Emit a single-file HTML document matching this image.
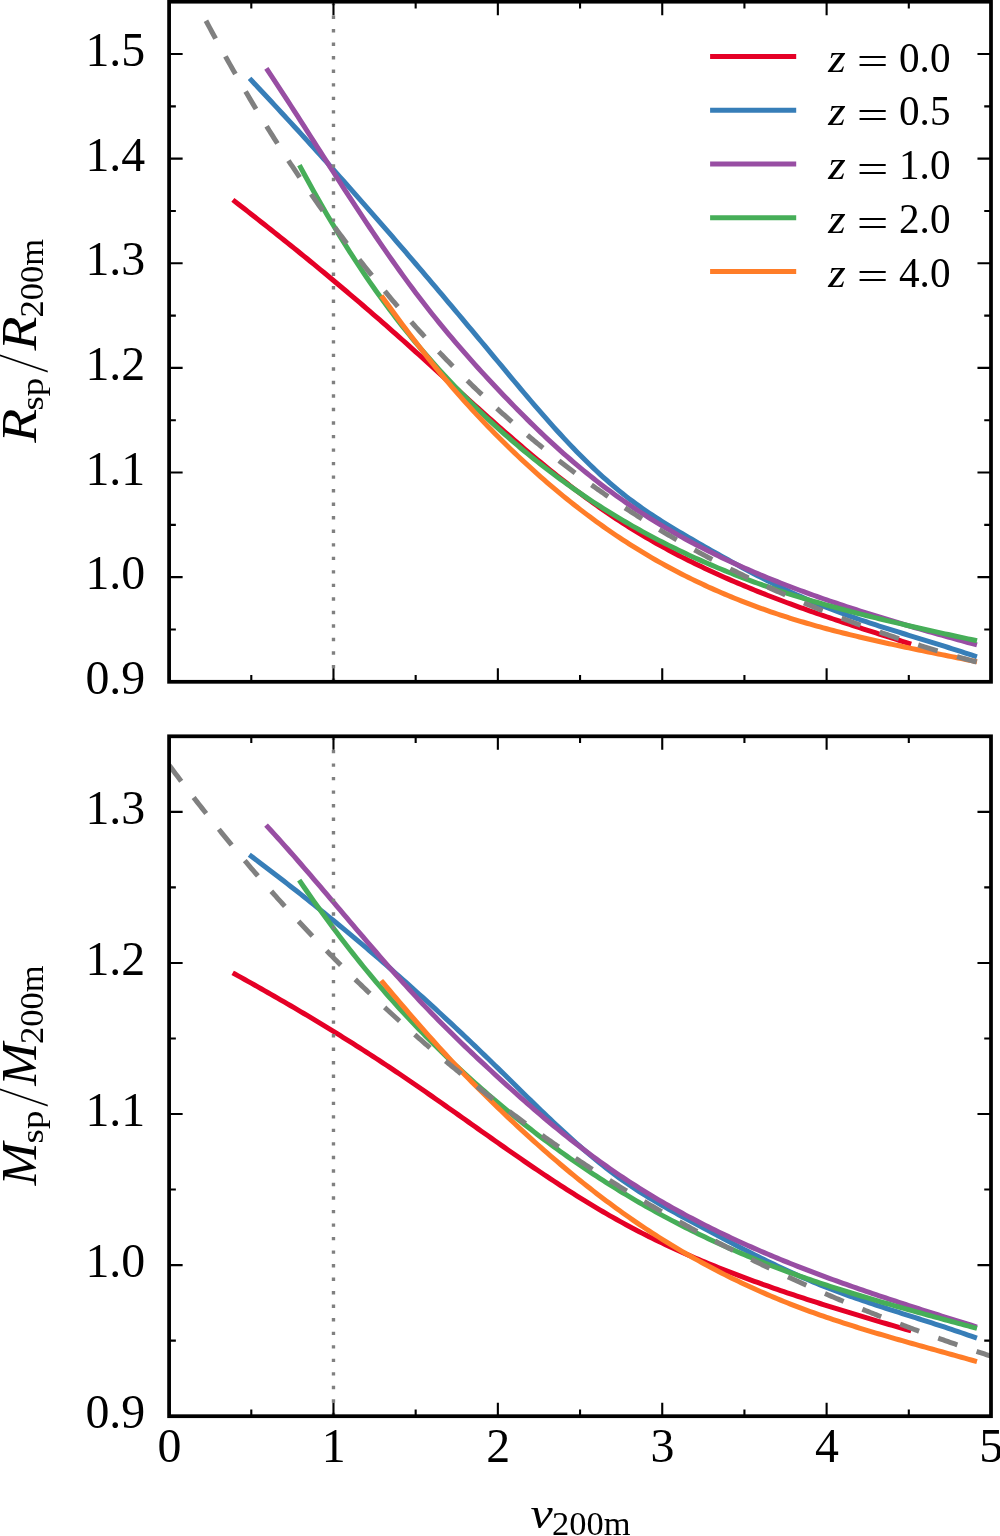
<!DOCTYPE html>
<html lang="en"><head><meta charset="utf-8"><title>Splashback radius and mass vs peak height</title>
<style>html,body{margin:0;padding:0;background:#fff}svg{display:block}</style></head>
<body>
<svg width="1000" height="1536" viewBox="0 0 1000 1536">
<rect x="0" y="0" width="1000" height="1536" fill="#ffffff"/>
<defs><clipPath id="ct"><rect x="169.10" y="3.90" width="821.90" height="677.90"/></clipPath><clipPath id="cb"><rect x="169.10" y="738.50" width="821.90" height="677.70"/></clipPath></defs>
<g clip-path="url(#ct)" fill="none" stroke-width="5.00">
<path d="M234.85 201.39 L238.14 203.94 L241.43 206.50 L244.71 209.06 L248.00 211.63 L251.29 214.20 L254.58 216.78 L257.87 219.36 L261.15 221.95 L264.44 224.54 L267.73 227.14 L271.02 229.74 L274.30 232.35 L277.59 234.97 L280.88 237.59 L284.17 240.21 L287.45 242.85 L290.74 245.49 L294.03 248.14 L297.32 250.79 L300.60 253.45 L303.89 256.12 L307.18 258.80 L310.47 261.48 L313.75 264.17 L317.04 266.87 L320.33 269.58 L323.62 272.29 L326.90 275.02 L330.19 277.75 L333.48 280.49 L336.77 283.23 L340.06 285.99 L343.34 288.75 L346.63 291.53 L349.92 294.31 L353.21 297.10 L356.49 299.89 L359.78 302.70 L363.07 305.52 L366.36 308.34 L369.64 311.17 L372.93 314.02 L376.22 316.87 L379.51 319.73 L382.79 322.60 L386.08 325.48 L389.37 328.36 L392.66 331.26 L395.94 334.17 L399.23 337.08 L402.52 340.00 L405.81 342.94 L409.09 345.88 L412.38 348.82 L415.67 351.78 L418.96 354.74 L422.25 357.70 L425.53 360.67 L428.82 363.64 L432.11 366.61 L435.40 369.59 L438.68 372.57 L441.97 375.55 L445.26 378.53 L448.55 381.51 L451.83 384.49 L455.12 387.46 L458.41 390.44 L461.70 393.41 L464.98 396.38 L468.27 399.34 L471.56 402.30 L474.85 405.25 L478.13 408.20 L481.42 411.15 L484.71 414.08 L488.00 417.01 L491.28 419.93 L494.57 422.84 L497.86 425.75 L501.15 428.64 L504.44 431.52 L507.72 434.39 L511.01 437.24 L514.30 440.09 L517.59 442.92 L520.87 445.73 L524.16 448.53 L527.45 451.32 L530.74 454.09 L534.02 456.84 L537.31 459.57 L540.60 462.29 L543.89 464.99 L547.17 467.67 L550.46 470.33 L553.75 472.97 L557.04 475.59 L560.32 478.19 L563.61 480.77 L566.90 483.33 L570.19 485.86 L573.47 488.38 L576.76 490.87 L580.05 493.33 L583.34 495.77 L586.63 498.19 L589.91 500.59 L593.20 502.96 L596.49 505.30 L599.78 507.62 L603.06 509.91 L606.35 512.18 L609.64 514.42 L612.93 516.64 L616.21 518.82 L619.50 520.98 L622.79 523.11 L626.08 525.22 L629.36 527.29 L632.65 529.34 L635.94 531.36 L639.23 533.36 L642.51 535.33 L645.80 537.27 L649.09 539.19 L652.38 541.08 L655.66 542.96 L658.95 544.80 L662.24 546.63 L665.53 548.43 L668.82 550.21 L672.10 551.96 L675.39 553.70 L678.68 555.42 L681.97 557.11 L685.25 558.78 L688.54 560.44 L691.83 562.08 L695.12 563.69 L698.40 565.29 L701.69 566.87 L704.98 568.43 L708.27 569.98 L711.55 571.51 L714.84 573.02 L718.13 574.51 L721.42 575.99 L724.70 577.46 L727.99 578.90 L731.28 580.34 L734.57 581.76 L737.85 583.16 L741.14 584.55 L744.43 585.93 L747.72 587.29 L751.01 588.64 L754.29 589.98 L757.58 591.31 L760.87 592.62 L764.16 593.92 L767.44 595.21 L770.73 596.49 L774.02 597.76 L777.31 599.01 L780.59 600.26 L783.88 601.50 L787.17 602.72 L790.46 603.94 L793.74 605.15 L797.03 606.35 L800.32 607.53 L803.61 608.72 L806.89 609.89 L810.18 611.05 L813.47 612.21 L816.76 613.36 L820.04 614.50 L823.33 615.63 L826.62 616.76 L829.91 617.88 L833.20 619.00 L836.48 620.10 L839.77 621.20 L843.06 622.30 L846.35 623.39 L849.63 624.48 L852.92 625.56 L856.21 626.63 L859.50 627.70 L862.78 628.77 L866.07 629.83 L869.36 630.89 L872.65 631.94 L875.93 632.99 L879.22 634.03 L882.51 635.08 L885.80 636.12 L889.08 637.15 L892.37 638.18 L895.66 639.22 L898.95 640.24 L902.23 641.27 L905.52 642.29 L908.81 643.32" stroke="#e50026" stroke-linecap="square" stroke-linejoin="round"/>
<path d="M251.29 80.19 L254.58 83.69 L257.87 87.20 L261.15 90.72 L264.44 94.24 L267.73 97.77 L271.02 101.31 L274.30 104.85 L277.59 108.39 L280.88 111.94 L284.17 115.50 L287.45 119.07 L290.74 122.64 L294.03 126.22 L297.32 129.81 L300.60 133.40 L303.89 137.00 L307.18 140.61 L310.47 144.22 L313.75 147.84 L317.04 151.47 L320.33 155.10 L323.62 158.75 L326.90 162.40 L330.19 166.06 L333.48 169.72 L336.77 173.39 L340.06 177.07 L343.34 180.76 L346.63 184.46 L349.92 188.16 L353.21 191.87 L356.49 195.59 L359.78 199.32 L363.07 203.05 L366.36 206.79 L369.64 210.54 L372.93 214.29 L376.22 218.05 L379.51 221.82 L382.79 225.60 L386.08 229.39 L389.37 233.18 L392.66 236.98 L395.94 240.78 L399.23 244.59 L402.52 248.41 L405.81 252.24 L409.09 256.07 L412.38 259.91 L415.67 263.75 L418.96 267.60 L422.25 271.46 L425.53 275.33 L428.82 279.19 L432.11 283.07 L435.40 286.95 L438.68 290.84 L441.97 294.73 L445.26 298.62 L448.55 302.52 L451.83 306.43 L455.12 310.34 L458.41 314.25 L461.70 318.17 L464.98 322.10 L468.27 326.02 L471.56 329.95 L474.85 333.89 L478.13 337.83 L481.42 341.77 L484.71 345.71 L488.00 349.65 L491.28 353.60 L494.57 357.55 L497.86 361.50 L501.15 365.46 L504.44 369.41 L507.72 373.36 L511.01 377.31 L514.30 381.25 L517.59 385.18 L520.87 389.10 L524.16 393.00 L527.45 396.88 L530.74 400.75 L534.02 404.59 L537.31 408.41 L540.60 412.20 L543.89 415.97 L547.17 419.70 L550.46 423.40 L553.75 427.07 L557.04 430.71 L560.32 434.30 L563.61 437.86 L566.90 441.38 L570.19 444.86 L573.47 448.29 L576.76 451.68 L580.05 455.02 L583.34 458.32 L586.63 461.57 L589.91 464.77 L593.20 467.92 L596.49 471.01 L599.78 474.06 L603.06 477.04 L606.35 479.98 L609.64 482.86 L612.93 485.68 L616.21 488.44 L619.50 491.15 L622.79 493.79 L626.08 496.38 L629.36 498.91 L632.65 501.37 L635.94 503.79 L639.23 506.15 L642.51 508.47 L645.80 510.74 L649.09 512.97 L652.38 515.16 L655.66 517.32 L658.95 519.44 L662.24 521.52 L665.53 523.58 L668.82 525.61 L672.10 527.62 L675.39 529.60 L678.68 531.57 L681.97 533.51 L685.25 535.44 L688.54 537.36 L691.83 539.27 L695.12 541.16 L698.40 543.05 L701.69 544.94 L704.98 546.82 L708.27 548.69 L711.55 550.56 L714.84 552.42 L718.13 554.27 L721.42 556.11 L724.70 557.95 L727.99 559.77 L731.28 561.59 L734.57 563.39 L737.85 565.18 L741.14 566.96 L744.43 568.73 L747.72 570.49 L751.01 572.23 L754.29 573.96 L757.58 575.67 L760.87 577.37 L764.16 579.05 L767.44 580.72 L770.73 582.37 L774.02 584.00 L777.31 585.61 L780.59 587.21 L783.88 588.79 L787.17 590.35 L790.46 591.89 L793.74 593.42 L797.03 594.92 L800.32 596.40 L803.61 597.86 L806.89 599.30 L810.18 600.72 L813.47 602.12 L816.76 603.50 L820.04 604.85 L823.33 606.18 L826.62 607.49 L829.91 608.78 L833.20 610.04 L836.48 611.28 L839.77 612.51 L843.06 613.71 L846.35 614.90 L849.63 616.07 L852.92 617.23 L856.21 618.37 L859.50 619.50 L862.78 620.61 L866.07 621.71 L869.36 622.80 L872.65 623.88 L875.93 624.95 L879.22 626.01 L882.51 627.06 L885.80 628.11 L889.08 629.15 L892.37 630.18 L895.66 631.21 L898.95 632.23 L902.23 633.25 L905.52 634.26 L908.81 635.28 L912.10 636.29 L915.39 637.30 L918.67 638.31 L921.96 639.32 L925.25 640.34 L928.54 641.35 L931.82 642.37 L935.11 643.39 L938.40 644.41 L941.69 645.44 L944.97 646.47 L948.26 647.50 L951.55 648.55 L954.84 649.60 L958.12 650.65 L961.41 651.72 L964.70 652.79 L967.99 653.87 L971.27 654.96 L974.56 656.05" stroke="#377eb8" stroke-linecap="square" stroke-linejoin="round"/>
<path d="M267.73 70.49 L271.02 75.41 L274.30 80.36 L277.59 85.34 L280.88 90.35 L284.17 95.38 L287.45 100.44 L290.74 105.51 L294.03 110.61 L297.32 115.72 L300.60 120.84 L303.89 125.97 L307.18 131.11 L310.47 136.25 L313.75 141.40 L317.04 146.54 L320.33 151.69 L323.62 156.84 L326.90 161.97 L330.19 167.11 L333.48 172.23 L336.77 177.34 L340.06 182.44 L343.34 187.53 L346.63 192.59 L349.92 197.65 L353.21 202.68 L356.49 207.69 L359.78 212.68 L363.07 217.64 L366.36 222.58 L369.64 227.49 L372.93 232.37 L376.22 237.23 L379.51 242.05 L382.79 246.84 L386.08 251.60 L389.37 256.33 L392.66 261.02 L395.94 265.67 L399.23 270.28 L402.52 274.85 L405.81 279.38 L409.09 283.86 L412.38 288.30 L415.67 292.69 L418.96 297.04 L422.25 301.33 L425.53 305.58 L428.82 309.78 L432.11 313.93 L435.40 318.04 L438.68 322.11 L441.97 326.13 L445.26 330.11 L448.55 334.05 L451.83 337.96 L455.12 341.83 L458.41 345.66 L461.70 349.45 L464.98 353.22 L468.27 356.95 L471.56 360.65 L474.85 364.32 L478.13 367.96 L481.42 371.57 L484.71 375.16 L488.00 378.72 L491.28 382.26 L494.57 385.77 L497.86 389.26 L501.15 392.73 L504.44 396.18 L507.72 399.60 L511.01 403.00 L514.30 406.38 L517.59 409.73 L520.87 413.06 L524.16 416.35 L527.45 419.62 L530.74 422.86 L534.02 426.08 L537.31 429.26 L540.60 432.41 L543.89 435.53 L547.17 438.61 L550.46 441.66 L553.75 444.68 L557.04 447.66 L560.32 450.61 L563.61 453.53 L566.90 456.41 L570.19 459.26 L573.47 462.08 L576.76 464.86 L580.05 467.61 L583.34 470.32 L586.63 473.00 L589.91 475.65 L593.20 478.27 L596.49 480.85 L599.78 483.40 L603.06 485.91 L606.35 488.40 L609.64 490.85 L612.93 493.27 L616.21 495.65 L619.50 498.01 L622.79 500.33 L626.08 502.62 L629.36 504.88 L632.65 507.10 L635.94 509.30 L639.23 511.47 L642.51 513.60 L645.80 515.71 L649.09 517.79 L652.38 519.85 L655.66 521.87 L658.95 523.87 L662.24 525.84 L665.53 527.79 L668.82 529.71 L672.10 531.61 L675.39 533.48 L678.68 535.33 L681.97 537.15 L685.25 538.96 L688.54 540.74 L691.83 542.49 L695.12 544.23 L698.40 545.94 L701.69 547.64 L704.98 549.31 L708.27 550.97 L711.55 552.60 L714.84 554.21 L718.13 555.81 L721.42 557.39 L724.70 558.94 L727.99 560.48 L731.28 562.01 L734.57 563.51 L737.85 565.00 L741.14 566.48 L744.43 567.93 L747.72 569.37 L751.01 570.80 L754.29 572.21 L757.58 573.60 L760.87 574.98 L764.16 576.34 L767.44 577.69 L770.73 579.03 L774.02 580.35 L777.31 581.66 L780.59 582.96 L783.88 584.25 L787.17 585.52 L790.46 586.78 L793.74 588.02 L797.03 589.26 L800.32 590.48 L803.61 591.69 L806.89 592.89 L810.18 594.08 L813.47 595.26 L816.76 596.43 L820.04 597.59 L823.33 598.74 L826.62 599.88 L829.91 601.01 L833.20 602.13 L836.48 603.24 L839.77 604.35 L843.06 605.44 L846.35 606.53 L849.63 607.60 L852.92 608.67 L856.21 609.74 L859.50 610.79 L862.78 611.84 L866.07 612.88 L869.36 613.91 L872.65 614.94 L875.93 615.96 L879.22 616.97 L882.51 617.98 L885.80 618.98 L889.08 619.97 L892.37 620.96 L895.66 621.95 L898.95 622.92 L902.23 623.90 L905.52 624.86 L908.81 625.83 L912.10 626.79 L915.39 627.74 L918.67 628.69 L921.96 629.63 L925.25 630.57 L928.54 631.51 L931.82 632.44 L935.11 633.37 L938.40 634.29 L941.69 635.21 L944.97 636.13 L948.26 637.05 L951.55 637.96 L954.84 638.87 L958.12 639.77 L961.41 640.67 L964.70 641.57 L967.99 642.47 L971.27 643.36 L974.56 644.26" stroke="#984ea3" stroke-linecap="square" stroke-linejoin="round"/>
<path d="M300.60 167.36 L303.89 173.48 L307.18 179.53 L310.47 185.51 L313.75 191.43 L317.04 197.28 L320.33 203.06 L323.62 208.78 L326.90 214.42 L330.19 220.01 L333.48 225.52 L336.77 230.97 L340.06 236.34 L343.34 241.66 L346.63 246.90 L349.92 252.08 L353.21 257.20 L356.49 262.25 L359.78 267.23 L363.07 272.15 L366.36 277.00 L369.64 281.79 L372.93 286.52 L376.22 291.19 L379.51 295.79 L382.79 300.33 L386.08 304.81 L389.37 309.23 L392.66 313.60 L395.94 317.90 L399.23 322.15 L402.52 326.34 L405.81 330.47 L409.09 334.56 L412.38 338.59 L415.67 342.57 L418.96 346.50 L422.25 350.38 L425.53 354.21 L428.82 357.99 L432.11 361.73 L435.40 365.43 L438.68 369.08 L441.97 372.68 L445.26 376.25 L448.55 379.77 L451.83 383.25 L455.12 386.70 L458.41 390.10 L461.70 393.47 L464.98 396.80 L468.27 400.09 L471.56 403.35 L474.85 406.57 L478.13 409.76 L481.42 412.92 L484.71 416.04 L488.00 419.13 L491.28 422.18 L494.57 425.20 L497.86 428.19 L501.15 431.15 L504.44 434.08 L507.72 436.97 L511.01 439.83 L514.30 442.66 L517.59 445.46 L520.87 448.23 L524.16 450.97 L527.45 453.68 L530.74 456.36 L534.02 459.02 L537.31 461.64 L540.60 464.23 L543.89 466.79 L547.17 469.33 L550.46 471.84 L553.75 474.31 L557.04 476.77 L560.32 479.19 L563.61 481.59 L566.90 483.96 L570.19 486.30 L573.47 488.61 L576.76 490.90 L580.05 493.17 L583.34 495.41 L586.63 497.62 L589.91 499.81 L593.20 501.97 L596.49 504.11 L599.78 506.22 L603.06 508.31 L606.35 510.38 L609.64 512.42 L612.93 514.44 L616.21 516.43 L619.50 518.40 L622.79 520.35 L626.08 522.28 L629.36 524.18 L632.65 526.06 L635.94 527.92 L639.23 529.76 L642.51 531.58 L645.80 533.38 L649.09 535.15 L652.38 536.91 L655.66 538.64 L658.95 540.35 L662.24 542.05 L665.53 543.72 L668.82 545.37 L672.10 547.01 L675.39 548.62 L678.68 550.22 L681.97 551.80 L685.25 553.35 L688.54 554.89 L691.83 556.41 L695.12 557.92 L698.40 559.40 L701.69 560.87 L704.98 562.32 L708.27 563.75 L711.55 565.16 L714.84 566.56 L718.13 567.94 L721.42 569.30 L724.70 570.65 L727.99 571.98 L731.28 573.29 L734.57 574.59 L737.85 575.87 L741.14 577.14 L744.43 578.39 L747.72 579.62 L751.01 580.84 L754.29 582.05 L757.58 583.23 L760.87 584.41 L764.16 585.57 L767.44 586.71 L770.73 587.84 L774.02 588.95 L777.31 590.05 L780.59 591.14 L783.88 592.21 L787.17 593.27 L790.46 594.32 L793.74 595.35 L797.03 596.37 L800.32 597.38 L803.61 598.38 L806.89 599.36 L810.18 600.34 L813.47 601.30 L816.76 602.26 L820.04 603.20 L823.33 604.13 L826.62 605.06 L829.91 605.97 L833.20 606.87 L836.48 607.77 L839.77 608.66 L843.06 609.54 L846.35 610.41 L849.63 611.27 L852.92 612.13 L856.21 612.97 L859.50 613.81 L862.78 614.65 L866.07 615.48 L869.36 616.30 L872.65 617.11 L875.93 617.92 L879.22 618.72 L882.51 619.52 L885.80 620.31 L889.08 621.09 L892.37 621.88 L895.66 622.65 L898.95 623.42 L902.23 624.19 L905.52 624.95 L908.81 625.71 L912.10 626.47 L915.39 627.22 L918.67 627.96 L921.96 628.71 L925.25 629.45 L928.54 630.19 L931.82 630.92 L935.11 631.65 L938.40 632.38 L941.69 633.11 L944.97 633.83 L948.26 634.55 L951.55 635.27 L954.84 635.99 L958.12 636.71 L961.41 637.42 L964.70 638.14 L967.99 638.85 L971.27 639.56 L974.56 640.27" stroke="#46ae58" stroke-linecap="square" stroke-linejoin="round"/>
<path d="M382.79 297.80 L386.08 302.33 L389.37 306.84 L392.66 311.34 L395.94 315.81 L399.23 320.26 L402.52 324.68 L405.81 329.08 L409.09 333.44 L412.38 337.78 L415.67 342.08 L418.96 346.34 L422.25 350.58 L425.53 354.77 L428.82 358.92 L432.11 363.04 L435.40 367.11 L438.68 371.14 L441.97 375.13 L445.26 379.08 L448.55 382.97 L451.83 386.83 L455.12 390.63 L458.41 394.39 L461.70 398.11 L464.98 401.79 L468.27 405.42 L471.56 409.02 L474.85 412.58 L478.13 416.09 L481.42 419.58 L484.71 423.02 L488.00 426.44 L491.28 429.81 L494.57 433.16 L497.86 436.48 L501.15 439.76 L504.44 443.01 L507.72 446.24 L511.01 449.43 L514.30 452.59 L517.59 455.72 L520.87 458.82 L524.16 461.89 L527.45 464.93 L530.74 467.94 L534.02 470.92 L537.31 473.86 L540.60 476.78 L543.89 479.66 L547.17 482.52 L550.46 485.34 L553.75 488.13 L557.04 490.89 L560.32 493.63 L563.61 496.33 L566.90 499.00 L570.19 501.64 L573.47 504.25 L576.76 506.82 L580.05 509.37 L583.34 511.89 L586.63 514.38 L589.91 516.84 L593.20 519.27 L596.49 521.67 L599.78 524.04 L603.06 526.38 L606.35 528.69 L609.64 530.98 L612.93 533.23 L616.21 535.45 L619.50 537.65 L622.79 539.82 L626.08 541.96 L629.36 544.07 L632.65 546.15 L635.94 548.21 L639.23 550.24 L642.51 552.24 L645.80 554.21 L649.09 556.16 L652.38 558.08 L655.66 559.97 L658.95 561.84 L662.24 563.68 L665.53 565.50 L668.82 567.29 L672.10 569.05 L675.39 570.79 L678.68 572.51 L681.97 574.20 L685.25 575.87 L688.54 577.51 L691.83 579.13 L695.12 580.73 L698.40 582.31 L701.69 583.86 L704.98 585.39 L708.27 586.90 L711.55 588.39 L714.84 589.86 L718.13 591.30 L721.42 592.73 L724.70 594.13 L727.99 595.52 L731.28 596.88 L734.57 598.22 L737.85 599.55 L741.14 600.85 L744.43 602.14 L747.72 603.41 L751.01 604.66 L754.29 605.89 L757.58 607.10 L760.87 608.29 L764.16 609.47 L767.44 610.63 L770.73 611.77 L774.02 612.90 L777.31 614.00 L780.59 615.09 L783.88 616.17 L787.17 617.22 L790.46 618.27 L793.74 619.29 L797.03 620.30 L800.32 621.30 L803.61 622.27 L806.89 623.24 L810.18 624.19 L813.47 625.12 L816.76 626.04 L820.04 626.95 L823.33 627.85 L826.62 628.73 L829.91 629.60 L833.20 630.46 L836.48 631.31 L839.77 632.15 L843.06 632.98 L846.35 633.80 L849.63 634.60 L852.92 635.40 L856.21 636.19 L859.50 636.98 L862.78 637.75 L866.07 638.52 L869.36 639.28 L872.65 640.03 L875.93 640.77 L879.22 641.51 L882.51 642.24 L885.80 642.97 L889.08 643.69 L892.37 644.41 L895.66 645.12 L898.95 645.82 L902.23 646.52 L905.52 647.22 L908.81 647.91 L912.10 648.60 L915.39 649.28 L918.67 649.97 L921.96 650.64 L925.25 651.32 L928.54 651.99 L931.82 652.66 L935.11 653.33 L938.40 654.00 L941.69 654.66 L944.97 655.32 L948.26 655.98 L951.55 656.64 L954.84 657.30 L958.12 657.96 L961.41 658.61 L964.70 659.27 L967.99 659.93 L971.27 660.58 L974.56 661.24" stroke="#ff7d28" stroke-linecap="square" stroke-linejoin="round"/>
<path d="M333.48 681.80 L333.48 -3.30" stroke="#808080" stroke-width="3.38" stroke-dasharray="3.382 10.147"/>
<path d="M169.10 -51.59 L170.74 -48.22 L172.39 -44.86 L174.03 -41.51 L175.68 -38.18 L177.32 -34.87 L178.96 -31.57 L180.61 -28.28 L182.25 -25.00 L183.89 -21.74 L185.54 -18.49 L187.18 -15.25 L188.83 -12.03 L190.47 -8.82 L192.11 -5.63 L193.76 -2.44 L195.40 0.73 L197.04 3.88 L198.69 7.03 L200.33 10.16 L201.98 13.28 L203.62 16.38 L205.26 19.47 L206.91 22.55 L208.55 25.62 L210.19 28.68 L211.84 31.72 L213.48 34.75 L215.13 37.77 L216.77 40.77 L218.41 43.77 L220.06 46.75 L221.70 49.71 L223.35 52.67 L224.99 55.61 L226.63 58.55 L228.28 61.47 L229.92 64.38 L231.56 67.27 L233.21 70.16 L234.85 73.03 L236.50 75.89 L238.14 78.74 L239.78 81.58 L241.43 84.40 L243.07 87.22 L244.71 90.02 L246.36 92.81 L248.00 95.59 L249.65 98.36 L251.29 101.12 L252.93 103.86 L254.58 106.60 L256.22 109.32 L257.87 112.03 L259.51 114.73 L261.15 117.42 L262.80 120.10 L264.44 122.77 L266.08 125.43 L267.73 128.07 L269.37 130.71 L271.02 133.33 L272.66 135.95 L274.30 138.55 L275.95 141.14 L277.59 143.73 L279.23 146.30 L280.88 148.86 L282.52 151.41 L284.17 153.95 L285.81 156.48 L287.45 159.00 L289.10 161.51 L290.74 164.01 L292.38 166.49 L294.03 168.97 L295.67 171.44 L297.32 173.90 L298.96 176.35 L300.60 178.78 L302.25 181.21 L303.89 183.63 L305.54 186.04 L307.18 188.44 L308.82 190.82 L310.47 193.20 L312.11 195.57 L313.75 197.93 L315.40 200.28 L317.04 202.62 L318.69 204.95 L320.33 207.27 L321.97 209.58 L323.62 211.89 L325.26 214.18 L326.90 216.46 L328.55 218.73 L330.19 221.00 L331.84 223.25 L333.48 225.50 L335.12 227.74 L336.77 229.96 L338.41 232.18 L340.06 234.39 L341.70 236.59 L343.34 238.78 L344.99 240.97 L346.63 243.14 L348.27 245.30 L349.92 247.46 L351.56 249.61 L353.21 251.74 L354.85 253.87 L356.49 255.99 L358.14 258.10 L359.78 260.21 L361.42 262.30 L363.07 264.39 L364.71 266.47 L366.36 268.53 L368.00 270.60 L369.64 272.65 L371.29 274.69 L372.93 276.73 L374.57 278.75 L376.22 280.77 L377.86 282.78 L379.51 284.78 L381.15 286.78 L382.79 288.76 L384.44 290.74 L386.08 292.71 L387.73 294.67 L389.37 296.63 L391.01 298.57 L392.66 300.51 L394.30 302.44 L395.94 304.36 L397.59 306.27 L399.23 308.18 L400.88 310.08 L402.52 311.97 L404.16 313.85 L405.81 315.73 L407.45 317.59 L409.09 319.45 L410.74 321.30 L412.38 323.15 L414.03 324.99 L415.67 326.82 L417.31 328.64 L418.96 330.45 L420.60 332.26 L422.25 334.06 L423.89 335.85 L425.53 337.64 L427.18 339.41 L428.82 341.18 L430.46 342.95 L432.11 344.70 L433.75 346.45 L435.40 348.19 L437.04 349.93 L438.68 351.65 L440.33 353.37 L441.97 355.09 L443.61 356.79 L445.26 358.49 L446.90 360.18 L448.55 361.87 L450.19 363.55 L451.83 365.22 L453.48 366.88 L455.12 368.54 L456.76 370.19 L458.41 371.84 L460.05 373.47 L461.70 375.11 L463.34 376.73 L464.98 378.35 L466.63 379.96 L468.27 381.56 L469.92 383.16 L471.56 384.75 L473.20 386.34 L474.85 387.91 L476.49 389.49 L478.13 391.05 L479.78 392.61 L481.42 394.16 L483.07 395.71 L484.71 397.25 L486.35 398.78 L488.00 400.31 L489.64 401.83 L491.28 403.35 L492.93 404.85 L494.57 406.36 L496.22 407.85 L497.86 409.34 L499.50 410.83 L501.15 412.30 L502.79 413.78 L504.44 415.24 L506.08 416.70 L507.72 418.16 L509.37 419.60 L511.01 421.05 L512.65 422.48 L514.30 423.91 L515.94 425.34 L517.59 426.75 L519.23 428.17 L520.87 429.57 L522.52 430.98 L524.16 432.37 L525.80 433.76 L527.45 435.14 L529.09 436.52 L530.74 437.90 L532.38 439.26 L534.02 440.62 L535.67 441.98 L537.31 443.33 L538.96 444.68 L540.60 446.01 L542.24 447.35 L543.89 448.68 L545.53 450.00 L547.17 451.32 L548.82 452.63 L550.46 453.94 L552.11 455.24 L553.75 456.53 L555.39 457.82 L557.04 459.11 L558.68 460.39 L560.32 461.67 L561.97 462.94 L563.61 464.20 L565.26 465.46 L566.90 466.71 L568.54 467.96 L570.19 469.21 L571.83 470.45 L573.47 471.68 L575.12 472.91 L576.76 474.13 L578.41 475.35 L580.05 476.56 L581.69 477.77 L583.34 478.98 L584.98 480.18 L586.63 481.37 L588.27 482.56 L589.91 483.74 L591.56 484.92 L593.20 486.10 L594.84 487.27 L596.49 488.43 L598.13 489.59 L599.78 490.75 L601.42 491.90 L603.06 493.04 L604.71 494.19 L606.35 495.32 L607.99 496.45 L609.64 497.58 L611.28 498.70 L612.93 499.82 L614.57 500.94 L616.21 502.04 L617.86 503.15 L619.50 504.25 L621.14 505.34 L622.79 506.44 L624.43 507.52 L626.08 508.60 L627.72 509.68 L629.36 510.75 L631.01 511.82 L632.65 512.89 L634.30 513.95 L635.94 515.00 L637.58 516.06 L639.23 517.10 L640.87 518.15 L642.51 519.18 L644.16 520.22 L645.80 521.25 L647.45 522.27 L649.09 523.30 L650.73 524.31 L652.38 525.33 L654.02 526.34 L655.66 527.34 L657.31 528.34 L658.95 529.34 L660.60 530.33 L662.24 531.32 L663.88 532.30 L665.53 533.28 L667.17 534.26 L668.82 535.23 L670.46 536.20 L672.10 537.17 L673.75 538.13 L675.39 539.08 L677.03 540.04 L678.68 540.99 L680.32 541.93 L681.97 542.87 L683.61 543.81 L685.25 544.74 L686.90 545.67 L688.54 546.60 L690.18 547.52 L691.83 548.44 L693.47 549.35 L695.12 550.26 L696.76 551.17 L698.40 552.07 L700.05 552.97 L701.69 553.87 L703.34 554.76 L704.98 555.65 L706.62 556.54 L708.27 557.42 L709.91 558.30 L711.55 559.17 L713.20 560.04 L714.84 560.91 L716.49 561.77 L718.13 562.63 L719.77 563.49 L721.42 564.34 L723.06 565.19 L724.70 566.04 L726.35 566.88 L727.99 567.72 L729.64 568.55 L731.28 569.38 L732.92 570.21 L734.57 571.04 L736.21 571.86 L737.85 572.68 L739.50 573.49 L741.14 574.31 L742.79 575.11 L744.43 575.92 L746.07 576.72 L747.72 577.52 L749.36 578.32 L751.01 579.11 L752.65 579.90 L754.29 580.68 L755.94 581.47 L757.58 582.25 L759.22 583.02 L760.87 583.79 L762.51 584.56 L764.16 585.33 L765.80 586.09 L767.44 586.85 L769.09 587.61 L770.73 588.37 L772.37 589.12 L774.02 589.86 L775.66 590.61 L777.31 591.35 L778.95 592.09 L780.59 592.83 L782.24 593.56 L783.88 594.29 L785.52 595.02 L787.17 595.74 L788.81 596.46 L790.46 597.18 L792.10 597.89 L793.74 598.61 L795.39 599.31 L797.03 600.02 L798.68 600.72 L800.32 601.42 L801.96 602.12 L803.61 602.82 L805.25 603.51 L806.89 604.20 L808.54 604.88 L810.18 605.57 L811.83 606.25 L813.47 606.93 L815.11 607.60 L816.76 608.27 L818.40 608.94 L820.04 609.61 L821.69 610.27 L823.33 610.93 L824.98 611.59 L826.62 612.25 L828.26 612.90 L829.91 613.55 L831.55 614.20 L833.20 614.85 L834.84 615.49 L836.48 616.13 L838.13 616.77 L839.77 617.40 L841.41 618.03 L843.06 618.66 L844.70 619.29 L846.35 619.91 L847.99 620.54 L849.63 621.16 L851.28 621.77 L852.92 622.39 L854.56 623.00 L856.21 623.61 L857.85 624.21 L859.50 624.82 L861.14 625.42 L862.78 626.02 L864.43 626.62 L866.07 627.21 L867.72 627.80 L869.36 628.39 L871.00 628.98 L872.65 629.57 L874.29 630.15 L875.93 630.73 L877.58 631.31 L879.22 631.88 L880.87 632.45 L882.51 633.02 L884.15 633.59 L885.80 634.16 L887.44 634.72 L889.08 635.28 L890.73 635.84 L892.37 636.40 L894.02 636.95 L895.66 637.51 L897.30 638.06 L898.95 638.60 L900.59 639.15 L902.23 639.69 L903.88 640.23 L905.52 640.77 L907.17 641.31 L908.81 641.84 L910.45 642.37 L912.10 642.90 L913.74 643.43 L915.39 643.96 L917.03 644.48 L918.67 645.00 L920.32 645.52 L921.96 646.04 L923.60 646.55 L925.25 647.07 L926.89 647.58 L928.54 648.09 L930.18 648.59 L931.82 649.10 L933.47 649.60 L935.11 650.10 L936.75 650.60 L938.40 651.09 L940.04 651.59 L941.69 652.08 L943.33 652.57 L944.97 653.06 L946.62 653.54 L948.26 654.03 L949.90 654.51 L951.55 654.99 L953.19 655.47 L954.84 655.95 L956.48 656.42 L958.12 656.89 L959.77 657.36 L961.41 657.83 L963.06 658.30 L964.70 658.76 L966.34 659.23 L967.99 659.69 L969.63 660.15 L971.27 660.60 L972.92 661.06 L974.56 661.51 L976.21 661.96 L977.85 662.41 L979.49 662.86 L981.14 663.31 L982.78 663.75 L984.42 664.19 L986.07 664.63 L987.71 665.07 L989.36 665.51 L991.00 665.95 L992.64 666.38 L994.29 666.81 L995.93 667.24 L997.58 667.67 L999.22 668.10 L1000.86 668.52 L1002.51 668.94 L1004.15 669.36 L1005.79 669.78 L1007.44 670.20 L1009.08 670.62 L1010.73 671.03 L1012.37 671.44 L1014.01 671.85 L1015.66 672.26 L1017.30 672.67 L1018.94 673.08 L1020.59 673.48 L1022.23 673.88 L1023.88 674.29 L1025.52 674.68 L1027.16 675.08 L1028.81 675.48 L1030.45 675.87 L1032.10 676.27 L1033.74 676.66 L1035.38 677.05 L1037.03 677.43 L1038.67 677.82 L1040.31 678.21" stroke="#808080" stroke-dasharray="20.295 20.295"/>
</g>
<g clip-path="url(#cb)" fill="none" stroke-width="5.00">
<path d="M234.85 974.03 L238.14 975.85 L241.43 977.68 L244.71 979.51 L248.00 981.35 L251.29 983.19 L254.58 985.04 L257.87 986.89 L261.15 988.75 L264.44 990.62 L267.73 992.49 L271.02 994.37 L274.30 996.25 L277.59 998.14 L280.88 1000.04 L284.17 1001.94 L287.45 1003.85 L290.74 1005.77 L294.03 1007.70 L297.32 1009.63 L300.60 1011.57 L303.89 1013.52 L307.18 1015.47 L310.47 1017.44 L313.75 1019.41 L317.04 1021.39 L320.33 1023.37 L323.62 1025.37 L326.90 1027.37 L330.19 1029.39 L333.48 1031.41 L336.77 1033.44 L340.06 1035.48 L343.34 1037.53 L346.63 1039.58 L349.92 1041.65 L353.21 1043.72 L356.49 1045.81 L359.78 1047.90 L363.07 1050.01 L366.36 1052.12 L369.64 1054.24 L372.93 1056.37 L376.22 1058.51 L379.51 1060.67 L382.79 1062.83 L386.08 1065.00 L389.37 1067.18 L392.66 1069.37 L395.94 1071.58 L399.23 1073.79 L402.52 1076.01 L405.81 1078.24 L409.09 1080.48 L412.38 1082.73 L415.67 1084.99 L418.96 1087.26 L422.25 1089.53 L425.53 1091.81 L428.82 1094.10 L432.11 1096.39 L435.40 1098.69 L438.68 1101.00 L441.97 1103.30 L445.26 1105.61 L448.55 1107.93 L451.83 1110.25 L455.12 1112.57 L458.41 1114.89 L461.70 1117.22 L464.98 1119.54 L468.27 1121.87 L471.56 1124.20 L474.85 1126.52 L478.13 1128.85 L481.42 1131.18 L484.71 1133.50 L488.00 1135.82 L491.28 1138.14 L494.57 1140.46 L497.86 1142.77 L501.15 1145.08 L504.44 1147.39 L507.72 1149.69 L511.01 1151.98 L514.30 1154.27 L517.59 1156.54 L520.87 1158.82 L524.16 1161.08 L527.45 1163.34 L530.74 1165.58 L534.02 1167.82 L537.31 1170.04 L540.60 1172.26 L543.89 1174.46 L547.17 1176.66 L550.46 1178.84 L553.75 1181.01 L557.04 1183.16 L560.32 1185.30 L563.61 1187.43 L566.90 1189.55 L570.19 1191.65 L573.47 1193.73 L576.76 1195.80 L580.05 1197.85 L583.34 1199.89 L586.63 1201.91 L589.91 1203.91 L593.20 1205.90 L596.49 1207.86 L599.78 1209.81 L603.06 1211.74 L606.35 1213.66 L609.64 1215.55 L612.93 1217.42 L616.21 1219.27 L619.50 1221.11 L622.79 1222.92 L626.08 1224.71 L629.36 1226.48 L632.65 1228.23 L635.94 1229.96 L639.23 1231.67 L642.51 1233.36 L645.80 1235.03 L649.09 1236.68 L652.38 1238.31 L655.66 1239.92 L658.95 1241.52 L662.24 1243.10 L665.53 1244.66 L668.82 1246.20 L672.10 1247.73 L675.39 1249.24 L678.68 1250.73 L681.97 1252.21 L685.25 1253.67 L688.54 1255.12 L691.83 1256.55 L695.12 1257.97 L698.40 1259.37 L701.69 1260.76 L704.98 1262.14 L708.27 1263.50 L711.55 1264.85 L714.84 1266.18 L718.13 1267.51 L721.42 1268.82 L724.70 1270.11 L727.99 1271.40 L731.28 1272.67 L734.57 1273.94 L737.85 1275.19 L741.14 1276.43 L744.43 1277.66 L747.72 1278.88 L751.01 1280.09 L754.29 1281.28 L757.58 1282.47 L760.87 1283.65 L764.16 1284.82 L767.44 1285.98 L770.73 1287.14 L774.02 1288.28 L777.31 1289.41 L780.59 1290.54 L783.88 1291.66 L787.17 1292.77 L790.46 1293.88 L793.74 1294.97 L797.03 1296.06 L800.32 1297.14 L803.61 1298.22 L806.89 1299.29 L810.18 1300.35 L813.47 1301.41 L816.76 1302.46 L820.04 1303.50 L823.33 1304.54 L826.62 1305.58 L829.91 1306.61 L833.20 1307.63 L836.48 1308.65 L839.77 1309.67 L843.06 1310.68 L846.35 1311.68 L849.63 1312.69 L852.92 1313.69 L856.21 1314.68 L859.50 1315.67 L862.78 1316.66 L866.07 1317.65 L869.36 1318.63 L872.65 1319.61 L875.93 1320.59 L879.22 1321.56 L882.51 1322.54 L885.80 1323.51 L889.08 1324.48 L892.37 1325.44 L895.66 1326.41 L898.95 1327.38 L902.23 1328.34 L905.52 1329.30 L908.81 1330.26" stroke="#e50026" stroke-linecap="square" stroke-linejoin="round"/>
<path d="M251.29 856.21 L254.58 858.68 L257.87 861.16 L261.15 863.65 L264.44 866.15 L267.73 868.65 L271.02 871.16 L274.30 873.68 L277.59 876.21 L280.88 878.75 L284.17 881.29 L287.45 883.85 L290.74 886.41 L294.03 888.98 L297.32 891.56 L300.60 894.15 L303.89 896.75 L307.18 899.35 L310.47 901.97 L313.75 904.59 L317.04 907.23 L320.33 909.88 L323.62 912.53 L326.90 915.19 L330.19 917.87 L333.48 920.55 L336.77 923.25 L340.06 925.95 L343.34 928.67 L346.63 931.39 L349.92 934.12 L353.21 936.87 L356.49 939.63 L359.78 942.39 L363.07 945.17 L366.36 947.96 L369.64 950.75 L372.93 953.56 L376.22 956.38 L379.51 959.21 L382.79 962.05 L386.08 964.90 L389.37 967.76 L392.66 970.64 L395.94 973.52 L399.23 976.41 L402.52 979.32 L405.81 982.23 L409.09 985.16 L412.38 988.10 L415.67 991.04 L418.96 994.00 L422.25 996.97 L425.53 999.95 L428.82 1002.94 L432.11 1005.94 L435.40 1008.96 L438.68 1011.98 L441.97 1015.01 L445.26 1018.06 L448.55 1021.11 L451.83 1024.18 L455.12 1027.25 L458.41 1030.34 L461.70 1033.43 L464.98 1036.54 L468.27 1039.65 L471.56 1042.78 L474.85 1045.91 L478.13 1049.06 L481.42 1052.22 L484.71 1055.38 L488.00 1058.56 L491.28 1061.74 L494.57 1064.94 L497.86 1068.14 L501.15 1071.35 L504.44 1074.57 L507.72 1077.80 L511.01 1081.03 L514.30 1084.26 L517.59 1087.50 L520.87 1090.73 L524.16 1093.95 L527.45 1097.18 L530.74 1100.39 L534.02 1103.59 L537.31 1106.78 L540.60 1109.96 L543.89 1113.12 L547.17 1116.27 L550.46 1119.39 L553.75 1122.50 L557.04 1125.59 L560.32 1128.65 L563.61 1131.68 L566.90 1134.69 L570.19 1137.67 L573.47 1140.63 L576.76 1143.55 L580.05 1146.44 L583.34 1149.29 L586.63 1152.11 L589.91 1154.90 L593.20 1157.65 L596.49 1160.36 L599.78 1163.02 L603.06 1165.65 L606.35 1168.24 L609.64 1170.78 L612.93 1173.28 L616.21 1175.73 L619.50 1178.14 L622.79 1180.49 L626.08 1182.80 L629.36 1185.06 L632.65 1187.28 L635.94 1189.45 L639.23 1191.58 L642.51 1193.67 L645.80 1195.73 L649.09 1197.75 L652.38 1199.73 L655.66 1201.69 L658.95 1203.62 L662.24 1205.53 L665.53 1207.41 L668.82 1209.27 L672.10 1211.11 L675.39 1212.94 L678.68 1214.75 L681.97 1216.54 L685.25 1218.33 L688.54 1220.10 L691.83 1221.87 L695.12 1223.63 L698.40 1225.39 L701.69 1227.15 L704.98 1228.91 L708.27 1230.66 L711.55 1232.41 L714.84 1234.16 L718.13 1235.90 L721.42 1237.64 L724.70 1239.37 L727.99 1241.10 L731.28 1242.82 L734.57 1244.53 L737.85 1246.24 L741.14 1247.94 L744.43 1249.63 L747.72 1251.31 L751.01 1252.97 L754.29 1254.63 L757.58 1256.28 L760.87 1257.92 L764.16 1259.54 L767.44 1261.15 L770.73 1262.75 L774.02 1264.33 L777.31 1265.90 L780.59 1267.46 L783.88 1269.00 L787.17 1270.52 L790.46 1272.03 L793.74 1273.53 L797.03 1275.00 L800.32 1276.46 L803.61 1277.90 L806.89 1279.32 L810.18 1280.72 L813.47 1282.11 L816.76 1283.47 L820.04 1284.82 L823.33 1286.14 L826.62 1287.44 L829.91 1288.73 L833.20 1289.99 L836.48 1291.24 L839.77 1292.46 L843.06 1293.67 L846.35 1294.87 L849.63 1296.05 L852.92 1297.21 L856.21 1298.36 L859.50 1299.50 L862.78 1300.63 L866.07 1301.74 L869.36 1302.85 L872.65 1303.95 L875.93 1305.03 L879.22 1306.11 L882.51 1307.19 L885.80 1308.25 L889.08 1309.32 L892.37 1310.37 L895.66 1311.43 L898.95 1312.48 L902.23 1313.52 L905.52 1314.57 L908.81 1315.61 L912.10 1316.66 L915.39 1317.70 L918.67 1318.75 L921.96 1319.80 L925.25 1320.85 L928.54 1321.90 L931.82 1322.96 L935.11 1324.02 L938.40 1325.09 L941.69 1326.16 L944.97 1327.24 L948.26 1328.33 L951.55 1329.42 L954.84 1330.52 L958.12 1331.63 L961.41 1332.75 L964.70 1333.88 L967.99 1335.02 L971.27 1336.17 L974.56 1337.34" stroke="#377eb8" stroke-linecap="square" stroke-linejoin="round"/>
<path d="M267.73 826.98 L271.02 830.54 L274.30 834.13 L277.59 837.74 L280.88 841.39 L284.17 845.06 L287.45 848.76 L290.74 852.48 L294.03 856.22 L297.32 859.98 L300.60 863.76 L303.89 867.55 L307.18 871.36 L310.47 875.19 L313.75 879.02 L317.04 882.87 L320.33 886.72 L323.62 890.58 L326.90 894.45 L330.19 898.32 L333.48 902.20 L336.77 906.07 L340.06 909.95 L343.34 913.83 L346.63 917.70 L349.92 921.57 L353.21 925.43 L356.49 929.29 L359.78 933.14 L363.07 936.99 L366.36 940.82 L369.64 944.65 L372.93 948.46 L376.22 952.26 L379.51 956.04 L382.79 959.81 L386.08 963.57 L389.37 967.30 L392.66 971.02 L395.94 974.72 L399.23 978.40 L402.52 982.05 L405.81 985.68 L409.09 989.29 L412.38 992.86 L415.67 996.41 L418.96 999.93 L422.25 1003.42 L425.53 1006.88 L428.82 1010.31 L432.11 1013.71 L435.40 1017.09 L438.68 1020.43 L441.97 1023.75 L445.26 1027.05 L448.55 1030.32 L451.83 1033.57 L455.12 1036.79 L458.41 1040.00 L461.70 1043.18 L464.98 1046.34 L468.27 1049.49 L471.56 1052.61 L474.85 1055.72 L478.13 1058.81 L481.42 1061.89 L484.71 1064.95 L488.00 1068.00 L491.28 1071.03 L494.57 1074.05 L497.86 1077.06 L501.15 1080.06 L504.44 1083.05 L507.72 1086.03 L511.01 1088.99 L514.30 1091.94 L517.59 1094.87 L520.87 1097.79 L524.16 1100.70 L527.45 1103.58 L530.74 1106.45 L534.02 1109.30 L537.31 1112.13 L540.60 1114.94 L543.89 1117.73 L547.17 1120.49 L550.46 1123.24 L553.75 1125.96 L557.04 1128.65 L560.32 1131.32 L563.61 1133.97 L566.90 1136.59 L570.19 1139.19 L573.47 1141.77 L576.76 1144.32 L580.05 1146.84 L583.34 1149.35 L586.63 1151.82 L589.91 1154.28 L593.20 1156.70 L596.49 1159.11 L599.78 1161.48 L603.06 1163.84 L606.35 1166.16 L609.64 1168.47 L612.93 1170.74 L616.21 1173.00 L619.50 1175.22 L622.79 1177.42 L626.08 1179.60 L629.36 1181.75 L632.65 1183.88 L635.94 1185.98 L639.23 1188.06 L642.51 1190.11 L645.80 1192.14 L649.09 1194.15 L652.38 1196.14 L655.66 1198.10 L658.95 1200.04 L662.24 1201.96 L665.53 1203.86 L668.82 1205.74 L672.10 1207.60 L675.39 1209.43 L678.68 1211.25 L681.97 1213.05 L685.25 1214.83 L688.54 1216.59 L691.83 1218.33 L695.12 1220.06 L698.40 1221.77 L701.69 1223.46 L704.98 1225.13 L708.27 1226.78 L711.55 1228.42 L714.84 1230.05 L718.13 1231.65 L721.42 1233.24 L724.70 1234.82 L727.99 1236.38 L731.28 1237.92 L734.57 1239.45 L737.85 1240.97 L741.14 1242.47 L744.43 1243.96 L747.72 1245.43 L751.01 1246.90 L754.29 1248.34 L757.58 1249.78 L760.87 1251.20 L764.16 1252.61 L767.44 1254.01 L770.73 1255.39 L774.02 1256.77 L777.31 1258.13 L780.59 1259.48 L783.88 1260.82 L787.17 1262.15 L790.46 1263.47 L793.74 1264.77 L797.03 1266.07 L800.32 1267.36 L803.61 1268.64 L806.89 1269.90 L810.18 1271.16 L813.47 1272.41 L816.76 1273.65 L820.04 1274.88 L823.33 1276.11 L826.62 1277.32 L829.91 1278.53 L833.20 1279.73 L836.48 1280.92 L839.77 1282.10 L843.06 1283.28 L846.35 1284.45 L849.63 1285.61 L852.92 1286.76 L856.21 1287.91 L859.50 1289.05 L862.78 1290.19 L866.07 1291.32 L869.36 1292.44 L872.65 1293.56 L875.93 1294.67 L879.22 1295.78 L882.51 1296.88 L885.80 1297.98 L889.08 1299.07 L892.37 1300.16 L895.66 1301.24 L898.95 1302.32 L902.23 1303.40 L905.52 1304.47 L908.81 1305.54 L912.10 1306.60 L915.39 1307.66 L918.67 1308.71 L921.96 1309.77 L925.25 1310.82 L928.54 1311.86 L931.82 1312.91 L935.11 1313.95 L938.40 1314.99 L941.69 1316.02 L944.97 1317.06 L948.26 1318.09 L951.55 1319.12 L954.84 1320.15 L958.12 1321.17 L961.41 1322.20 L964.70 1323.22 L967.99 1324.24 L971.27 1325.26 L974.56 1326.28" stroke="#984ea3" stroke-linecap="square" stroke-linejoin="round"/>
<path d="M300.60 882.25 L303.89 887.01 L307.18 891.74 L310.47 896.43 L313.75 901.09 L317.04 905.70 L320.33 910.28 L323.62 914.82 L326.90 919.32 L330.19 923.78 L333.48 928.20 L336.77 932.59 L340.06 936.93 L343.34 941.23 L346.63 945.49 L349.92 949.72 L353.21 953.90 L356.49 958.04 L359.78 962.14 L363.07 966.20 L366.36 970.22 L369.64 974.20 L372.93 978.14 L376.22 982.04 L379.51 985.90 L382.79 989.72 L386.08 993.50 L389.37 997.24 L392.66 1000.94 L395.94 1004.60 L399.23 1008.23 L402.52 1011.82 L405.81 1015.37 L409.09 1018.89 L412.38 1022.37 L415.67 1025.82 L418.96 1029.24 L422.25 1032.62 L425.53 1035.97 L428.82 1039.29 L432.11 1042.58 L435.40 1045.84 L438.68 1049.06 L441.97 1052.26 L445.26 1055.44 L448.55 1058.58 L451.83 1061.70 L455.12 1064.79 L458.41 1067.85 L461.70 1070.89 L464.98 1073.90 L468.27 1076.89 L471.56 1079.85 L474.85 1082.79 L478.13 1085.71 L481.42 1088.61 L484.71 1091.48 L488.00 1094.33 L491.28 1097.15 L494.57 1099.96 L497.86 1102.74 L501.15 1105.50 L504.44 1108.24 L507.72 1110.95 L511.01 1113.64 L514.30 1116.31 L517.59 1118.96 L520.87 1121.59 L524.16 1124.20 L527.45 1126.78 L530.74 1129.34 L534.02 1131.88 L537.31 1134.40 L540.60 1136.90 L543.89 1139.38 L547.17 1141.83 L550.46 1144.27 L553.75 1146.68 L557.04 1149.08 L560.32 1151.45 L563.61 1153.80 L566.90 1156.13 L570.19 1158.44 L573.47 1160.73 L576.76 1163.01 L580.05 1165.26 L583.34 1167.49 L586.63 1169.70 L589.91 1171.89 L593.20 1174.06 L596.49 1176.21 L599.78 1178.35 L603.06 1180.46 L606.35 1182.55 L609.64 1184.63 L612.93 1186.69 L616.21 1188.73 L619.50 1190.75 L622.79 1192.75 L626.08 1194.73 L629.36 1196.69 L632.65 1198.64 L635.94 1200.57 L639.23 1202.48 L642.51 1204.37 L645.80 1206.25 L649.09 1208.10 L652.38 1209.94 L655.66 1211.77 L658.95 1213.57 L662.24 1215.36 L665.53 1217.13 L668.82 1218.89 L672.10 1220.62 L675.39 1222.34 L678.68 1224.05 L681.97 1225.74 L685.25 1227.41 L688.54 1229.06 L691.83 1230.70 L695.12 1232.32 L698.40 1233.93 L701.69 1235.52 L704.98 1237.10 L708.27 1238.66 L711.55 1240.20 L714.84 1241.73 L718.13 1243.24 L721.42 1244.74 L724.70 1246.22 L727.99 1247.69 L731.28 1249.14 L734.57 1250.57 L737.85 1252.00 L741.14 1253.40 L744.43 1254.80 L747.72 1256.17 L751.01 1257.54 L754.29 1258.88 L757.58 1260.22 L760.87 1261.54 L764.16 1262.84 L767.44 1264.14 L770.73 1265.41 L774.02 1266.68 L777.31 1267.93 L780.59 1269.16 L783.88 1270.38 L787.17 1271.59 L790.46 1272.79 L793.74 1273.97 L797.03 1275.15 L800.32 1276.31 L803.61 1277.45 L806.89 1278.59 L810.18 1279.72 L813.47 1280.83 L816.76 1281.94 L820.04 1283.04 L823.33 1284.12 L826.62 1285.20 L829.91 1286.27 L833.20 1287.32 L836.48 1288.37 L839.77 1289.42 L843.06 1290.45 L846.35 1291.47 L849.63 1292.49 L852.92 1293.50 L856.21 1294.51 L859.50 1295.50 L862.78 1296.49 L866.07 1297.48 L869.36 1298.45 L872.65 1299.42 L875.93 1300.39 L879.22 1301.35 L882.51 1302.30 L885.80 1303.25 L889.08 1304.20 L892.37 1305.14 L895.66 1306.07 L898.95 1307.01 L902.23 1307.93 L905.52 1308.86 L908.81 1309.78 L912.10 1310.70 L915.39 1311.61 L918.67 1312.52 L921.96 1313.43 L925.25 1314.33 L928.54 1315.24 L931.82 1316.14 L935.11 1317.04 L938.40 1317.94 L941.69 1318.83 L944.97 1319.72 L948.26 1320.62 L951.55 1321.51 L954.84 1322.40 L958.12 1323.29 L961.41 1324.18 L964.70 1325.07 L967.99 1325.96 L971.27 1326.84 L974.56 1327.73" stroke="#46ae58" stroke-linecap="square" stroke-linejoin="round"/>
<path d="M382.79 982.40 L386.08 986.28 L389.37 990.16 L392.66 994.03 L395.94 997.90 L399.23 1001.75 L402.52 1005.60 L405.81 1009.44 L409.09 1013.26 L412.38 1017.07 L415.67 1020.86 L418.96 1024.64 L422.25 1028.39 L425.53 1032.13 L428.82 1035.84 L432.11 1039.53 L435.40 1043.20 L438.68 1046.84 L441.97 1050.45 L445.26 1054.03 L448.55 1057.59 L451.83 1061.11 L455.12 1064.61 L458.41 1068.07 L461.70 1071.51 L464.98 1074.91 L468.27 1078.30 L471.56 1081.65 L474.85 1084.98 L478.13 1088.29 L481.42 1091.57 L484.71 1094.83 L488.00 1098.07 L491.28 1101.29 L494.57 1104.48 L497.86 1107.66 L501.15 1110.82 L504.44 1113.96 L507.72 1117.08 L511.01 1120.18 L514.30 1123.26 L517.59 1126.32 L520.87 1129.36 L524.16 1132.38 L527.45 1135.38 L530.74 1138.36 L534.02 1141.32 L537.31 1144.26 L540.60 1147.18 L543.89 1150.08 L547.17 1152.95 L550.46 1155.81 L553.75 1158.64 L557.04 1161.45 L560.32 1164.24 L563.61 1167.00 L566.90 1169.75 L570.19 1172.47 L573.47 1175.17 L576.76 1177.84 L580.05 1180.50 L583.34 1183.13 L586.63 1185.74 L589.91 1188.32 L593.20 1190.88 L596.49 1193.42 L599.78 1195.94 L603.06 1198.43 L606.35 1200.90 L609.64 1203.35 L612.93 1205.78 L616.21 1208.18 L619.50 1210.55 L622.79 1212.91 L626.08 1215.24 L629.36 1217.54 L632.65 1219.83 L635.94 1222.09 L639.23 1224.33 L642.51 1226.54 L645.80 1228.73 L649.09 1230.90 L652.38 1233.04 L655.66 1235.16 L658.95 1237.26 L662.24 1239.33 L665.53 1241.38 L668.82 1243.41 L672.10 1245.42 L675.39 1247.40 L678.68 1249.36 L681.97 1251.30 L685.25 1253.22 L688.54 1255.12 L691.83 1257.00 L695.12 1258.85 L698.40 1260.68 L701.69 1262.50 L704.98 1264.29 L708.27 1266.06 L711.55 1267.81 L714.84 1269.54 L718.13 1271.25 L721.42 1272.94 L724.70 1274.61 L727.99 1276.26 L731.28 1277.89 L734.57 1279.50 L737.85 1281.10 L741.14 1282.67 L744.43 1284.23 L747.72 1285.76 L751.01 1287.28 L754.29 1288.78 L757.58 1290.26 L760.87 1291.72 L764.16 1293.16 L767.44 1294.59 L770.73 1296.00 L774.02 1297.39 L777.31 1298.76 L780.59 1300.11 L783.88 1301.45 L787.17 1302.77 L790.46 1304.07 L793.74 1305.36 L797.03 1306.63 L800.32 1307.88 L803.61 1309.11 L806.89 1310.33 L810.18 1311.54 L813.47 1312.72 L816.76 1313.90 L820.04 1315.06 L823.33 1316.20 L826.62 1317.34 L829.91 1318.45 L833.20 1319.56 L836.48 1320.66 L839.77 1321.74 L843.06 1322.81 L846.35 1323.88 L849.63 1324.93 L852.92 1325.97 L856.21 1327.00 L859.50 1328.03 L862.78 1329.04 L866.07 1330.05 L869.36 1331.05 L872.65 1332.04 L875.93 1333.03 L879.22 1334.00 L882.51 1334.97 L885.80 1335.94 L889.08 1336.90 L892.37 1337.85 L895.66 1338.80 L898.95 1339.75 L902.23 1340.69 L905.52 1341.63 L908.81 1342.56 L912.10 1343.49 L915.39 1344.42 L918.67 1345.34 L921.96 1346.26 L925.25 1347.18 L928.54 1348.10 L931.82 1349.01 L935.11 1349.93 L938.40 1350.84 L941.69 1351.75 L944.97 1352.67 L948.26 1353.58 L951.55 1354.49 L954.84 1355.40 L958.12 1356.31 L961.41 1357.23 L964.70 1358.14 L967.99 1359.06 L971.27 1359.97 L974.56 1360.89" stroke="#ff7d28" stroke-linecap="square" stroke-linejoin="round"/>
<path d="M333.48 1416.20 L333.48 731.30" stroke="#808080" stroke-width="3.38" stroke-dasharray="3.382 10.147"/>
<path d="M169.10 765.13 L170.74 767.34 L172.39 769.54 L174.03 771.74 L175.68 773.93 L177.32 776.11 L178.96 778.29 L180.61 780.46 L182.25 782.63 L183.89 784.79 L185.54 786.94 L187.18 789.09 L188.83 791.23 L190.47 793.37 L192.11 795.49 L193.76 797.62 L195.40 799.74 L197.04 801.85 L198.69 803.95 L200.33 806.05 L201.98 808.14 L203.62 810.23 L205.26 812.31 L206.91 814.39 L208.55 816.46 L210.19 818.52 L211.84 820.58 L213.48 822.63 L215.13 824.68 L216.77 826.72 L218.41 828.75 L220.06 830.78 L221.70 832.81 L223.35 834.82 L224.99 836.84 L226.63 838.84 L228.28 840.84 L229.92 842.84 L231.56 844.83 L233.21 846.81 L234.85 848.79 L236.50 850.76 L238.14 852.73 L239.78 854.69 L241.43 856.64 L243.07 858.59 L244.71 860.54 L246.36 862.48 L248.00 864.41 L249.65 866.34 L251.29 868.26 L252.93 870.18 L254.58 872.09 L256.22 874.00 L257.87 875.90 L259.51 877.79 L261.15 879.68 L262.80 881.57 L264.44 883.45 L266.08 885.32 L267.73 887.19 L269.37 889.05 L271.02 890.91 L272.66 892.76 L274.30 894.61 L275.95 896.45 L277.59 898.29 L279.23 900.12 L280.88 901.95 L282.52 903.77 L284.17 905.59 L285.81 907.40 L287.45 909.21 L289.10 911.01 L290.74 912.80 L292.38 914.59 L294.03 916.38 L295.67 918.16 L297.32 919.94 L298.96 921.71 L300.60 923.47 L302.25 925.23 L303.89 926.99 L305.54 928.74 L307.18 930.48 L308.82 932.22 L310.47 933.96 L312.11 935.69 L313.75 937.42 L315.40 939.14 L317.04 940.86 L318.69 942.57 L320.33 944.27 L321.97 945.97 L323.62 947.67 L325.26 949.36 L326.90 951.05 L328.55 952.73 L330.19 954.41 L331.84 956.08 L333.48 957.75 L335.12 959.42 L336.77 961.07 L338.41 962.73 L340.06 964.38 L341.70 966.02 L343.34 967.66 L344.99 969.30 L346.63 970.93 L348.27 972.56 L349.92 974.18 L351.56 975.79 L353.21 977.41 L354.85 979.01 L356.49 980.62 L358.14 982.22 L359.78 983.81 L361.42 985.40 L363.07 986.99 L364.71 988.57 L366.36 990.14 L368.00 991.71 L369.64 993.28 L371.29 994.84 L372.93 996.40 L374.57 997.96 L376.22 999.51 L377.86 1001.05 L379.51 1002.59 L381.15 1004.13 L382.79 1005.66 L384.44 1007.19 L386.08 1008.71 L387.73 1010.23 L389.37 1011.75 L391.01 1013.26 L392.66 1014.76 L394.30 1016.26 L395.94 1017.76 L397.59 1019.26 L399.23 1020.74 L400.88 1022.23 L402.52 1023.71 L404.16 1025.19 L405.81 1026.66 L407.45 1028.13 L409.09 1029.59 L410.74 1031.05 L412.38 1032.51 L414.03 1033.96 L415.67 1035.41 L417.31 1036.85 L418.96 1038.29 L420.60 1039.73 L422.25 1041.16 L423.89 1042.58 L425.53 1044.01 L427.18 1045.43 L428.82 1046.84 L430.46 1048.25 L432.11 1049.66 L433.75 1051.06 L435.40 1052.46 L437.04 1053.86 L438.68 1055.25 L440.33 1056.63 L441.97 1058.02 L443.61 1059.40 L445.26 1060.77 L446.90 1062.14 L448.55 1063.51 L450.19 1064.88 L451.83 1066.24 L453.48 1067.59 L455.12 1068.94 L456.76 1070.29 L458.41 1071.64 L460.05 1072.98 L461.70 1074.32 L463.34 1075.65 L464.98 1076.98 L466.63 1078.30 L468.27 1079.63 L469.92 1080.94 L471.56 1082.26 L473.20 1083.57 L474.85 1084.88 L476.49 1086.18 L478.13 1087.48 L479.78 1088.77 L481.42 1090.07 L483.07 1091.36 L484.71 1092.64 L486.35 1093.92 L488.00 1095.20 L489.64 1096.47 L491.28 1097.74 L492.93 1099.01 L494.57 1100.27 L496.22 1101.53 L497.86 1102.79 L499.50 1104.04 L501.15 1105.29 L502.79 1106.54 L504.44 1107.78 L506.08 1109.02 L507.72 1110.25 L509.37 1111.48 L511.01 1112.71 L512.65 1113.94 L514.30 1115.16 L515.94 1116.37 L517.59 1117.59 L519.23 1118.80 L520.87 1120.01 L522.52 1121.21 L524.16 1122.41 L525.80 1123.61 L527.45 1124.80 L529.09 1125.99 L530.74 1127.18 L532.38 1128.36 L534.02 1129.54 L535.67 1130.72 L537.31 1131.89 L538.96 1133.06 L540.60 1134.23 L542.24 1135.39 L543.89 1136.55 L545.53 1137.71 L547.17 1138.86 L548.82 1140.01 L550.46 1141.16 L552.11 1142.30 L553.75 1143.44 L555.39 1144.58 L557.04 1145.72 L558.68 1146.85 L560.32 1147.97 L561.97 1149.10 L563.61 1150.22 L565.26 1151.34 L566.90 1152.45 L568.54 1153.57 L570.19 1154.67 L571.83 1155.78 L573.47 1156.88 L575.12 1157.98 L576.76 1159.08 L578.41 1160.17 L580.05 1161.26 L581.69 1162.35 L583.34 1163.43 L584.98 1164.51 L586.63 1165.59 L588.27 1166.66 L589.91 1167.74 L591.56 1168.80 L593.20 1169.87 L594.84 1170.93 L596.49 1171.99 L598.13 1173.05 L599.78 1174.10 L601.42 1175.15 L603.06 1176.20 L604.71 1177.24 L606.35 1178.29 L607.99 1179.32 L609.64 1180.36 L611.28 1181.39 L612.93 1182.42 L614.57 1183.45 L616.21 1184.47 L617.86 1185.49 L619.50 1186.51 L621.14 1187.53 L622.79 1188.54 L624.43 1189.55 L626.08 1190.56 L627.72 1191.56 L629.36 1192.56 L631.01 1193.56 L632.65 1194.56 L634.30 1195.55 L635.94 1196.54 L637.58 1197.52 L639.23 1198.51 L640.87 1199.49 L642.51 1200.47 L644.16 1201.44 L645.80 1202.42 L647.45 1203.39 L649.09 1204.35 L650.73 1205.32 L652.38 1206.28 L654.02 1207.24 L655.66 1208.20 L657.31 1209.15 L658.95 1210.10 L660.60 1211.05 L662.24 1212.00 L663.88 1212.94 L665.53 1213.88 L667.17 1214.82 L668.82 1215.75 L670.46 1216.69 L672.10 1217.62 L673.75 1218.54 L675.39 1219.47 L677.03 1220.39 L678.68 1221.31 L680.32 1222.23 L681.97 1223.14 L683.61 1224.05 L685.25 1224.96 L686.90 1225.87 L688.54 1226.77 L690.18 1227.67 L691.83 1228.57 L693.47 1229.47 L695.12 1230.36 L696.76 1231.25 L698.40 1232.14 L700.05 1233.03 L701.69 1233.91 L703.34 1234.79 L704.98 1235.67 L706.62 1236.54 L708.27 1237.42 L709.91 1238.29 L711.55 1239.16 L713.20 1240.02 L714.84 1240.89 L716.49 1241.75 L718.13 1242.61 L719.77 1243.46 L721.42 1244.32 L723.06 1245.17 L724.70 1246.02 L726.35 1246.87 L727.99 1247.71 L729.64 1248.55 L731.28 1249.39 L732.92 1250.23 L734.57 1251.06 L736.21 1251.90 L737.85 1252.73 L739.50 1253.55 L741.14 1254.38 L742.79 1255.20 L744.43 1256.02 L746.07 1256.84 L747.72 1257.66 L749.36 1258.47 L751.01 1259.28 L752.65 1260.09 L754.29 1260.90 L755.94 1261.70 L757.58 1262.50 L759.22 1263.30 L760.87 1264.10 L762.51 1264.90 L764.16 1265.69 L765.80 1266.48 L767.44 1267.27 L769.09 1268.06 L770.73 1268.84 L772.37 1269.62 L774.02 1270.40 L775.66 1271.18 L777.31 1271.96 L778.95 1272.73 L780.59 1273.50 L782.24 1274.27 L783.88 1275.04 L785.52 1275.80 L787.17 1276.56 L788.81 1277.32 L790.46 1278.08 L792.10 1278.84 L793.74 1279.59 L795.39 1280.34 L797.03 1281.09 L798.68 1281.84 L800.32 1282.58 L801.96 1283.33 L803.61 1284.07 L805.25 1284.81 L806.89 1285.54 L808.54 1286.28 L810.18 1287.01 L811.83 1287.74 L813.47 1288.47 L815.11 1289.20 L816.76 1289.92 L818.40 1290.64 L820.04 1291.36 L821.69 1292.08 L823.33 1292.80 L824.98 1293.51 L826.62 1294.22 L828.26 1294.93 L829.91 1295.64 L831.55 1296.35 L833.20 1297.05 L834.84 1297.75 L836.48 1298.46 L838.13 1299.15 L839.77 1299.85 L841.41 1300.54 L843.06 1301.24 L844.70 1301.93 L846.35 1302.61 L847.99 1303.30 L849.63 1303.99 L851.28 1304.67 L852.92 1305.35 L854.56 1306.03 L856.21 1306.70 L857.85 1307.38 L859.50 1308.05 L861.14 1308.72 L862.78 1309.39 L864.43 1310.06 L866.07 1310.72 L867.72 1311.39 L869.36 1312.05 L871.00 1312.71 L872.65 1313.37 L874.29 1314.02 L875.93 1314.68 L877.58 1315.33 L879.22 1315.98 L880.87 1316.63 L882.51 1317.27 L884.15 1317.92 L885.80 1318.56 L887.44 1319.20 L889.08 1319.84 L890.73 1320.48 L892.37 1321.11 L894.02 1321.75 L895.66 1322.38 L897.30 1323.01 L898.95 1323.64 L900.59 1324.27 L902.23 1324.89 L903.88 1325.51 L905.52 1326.14 L907.17 1326.76 L908.81 1327.37 L910.45 1327.99 L912.10 1328.60 L913.74 1329.22 L915.39 1329.83 L917.03 1330.44 L918.67 1331.04 L920.32 1331.65 L921.96 1332.25 L923.60 1332.86 L925.25 1333.46 L926.89 1334.06 L928.54 1334.65 L930.18 1335.25 L931.82 1335.84 L933.47 1336.44 L935.11 1337.03 L936.75 1337.61 L938.40 1338.20 L940.04 1338.79 L941.69 1339.37 L943.33 1339.95 L944.97 1340.53 L946.62 1341.11 L948.26 1341.69 L949.90 1342.27 L951.55 1342.84 L953.19 1343.41 L954.84 1343.98 L956.48 1344.55 L958.12 1345.12 L959.77 1345.69 L961.41 1346.25 L963.06 1346.81 L964.70 1347.37 L966.34 1347.93 L967.99 1348.49 L969.63 1349.05 L971.27 1349.60 L972.92 1350.16 L974.56 1350.71 L976.21 1351.26 L977.85 1351.81 L979.49 1352.35 L981.14 1352.90 L982.78 1353.44 L984.42 1353.98 L986.07 1354.52 L987.71 1355.06 L989.36 1355.60 L991.00 1356.14 L992.64 1356.67 L994.29 1357.21 L995.93 1357.74 L997.58 1358.27 L999.22 1358.80 L1000.86 1359.32 L1002.51 1359.85 L1004.15 1360.37 L1005.79 1360.90 L1007.44 1361.42 L1009.08 1361.94 L1010.73 1362.46 L1012.37 1362.97 L1014.01 1363.49 L1015.66 1364.00 L1017.30 1364.51 L1018.94 1365.02 L1020.59 1365.53 L1022.23 1366.04 L1023.88 1366.55 L1025.52 1367.05 L1027.16 1367.56 L1028.81 1368.06 L1030.45 1368.56 L1032.10 1369.06 L1033.74 1369.56 L1035.38 1370.06 L1037.03 1370.55 L1038.67 1371.04 L1040.31 1371.54" stroke="#808080" stroke-dasharray="20.295 20.295"/>
</g>
<g stroke="#000" stroke-width="2.10" fill="none">
<path d="M169.10 681.80 v-13.53 M169.10 1.70 v13.53"/>
<path d="M251.29 681.80 v-6.76 M251.29 1.70 v6.76"/>
<path d="M333.48 681.80 v-13.53 M333.48 1.70 v13.53"/>
<path d="M415.67 681.80 v-6.76 M415.67 1.70 v6.76"/>
<path d="M497.86 681.80 v-13.53 M497.86 1.70 v13.53"/>
<path d="M580.05 681.80 v-6.76 M580.05 1.70 v6.76"/>
<path d="M662.24 681.80 v-13.53 M662.24 1.70 v13.53"/>
<path d="M744.43 681.80 v-6.76 M744.43 1.70 v6.76"/>
<path d="M826.62 681.80 v-13.53 M826.62 1.70 v13.53"/>
<path d="M908.81 681.80 v-6.76 M908.81 1.70 v6.76"/>
<path d="M991.00 681.80 v-13.53 M991.00 1.70 v13.53"/>
<path d="M169.10 1416.20 v-13.53 M169.10 736.30 v13.53"/>
<path d="M251.29 1416.20 v-6.76 M251.29 736.30 v6.76"/>
<path d="M333.48 1416.20 v-13.53 M333.48 736.30 v13.53"/>
<path d="M415.67 1416.20 v-6.76 M415.67 736.30 v6.76"/>
<path d="M497.86 1416.20 v-13.53 M497.86 736.30 v13.53"/>
<path d="M580.05 1416.20 v-6.76 M580.05 736.30 v6.76"/>
<path d="M662.24 1416.20 v-13.53 M662.24 736.30 v13.53"/>
<path d="M744.43 1416.20 v-6.76 M744.43 736.30 v6.76"/>
<path d="M826.62 1416.20 v-13.53 M826.62 736.30 v13.53"/>
<path d="M908.81 1416.20 v-6.76 M908.81 736.30 v6.76"/>
<path d="M991.00 1416.20 v-13.53 M991.00 736.30 v13.53"/>
<path d="M169.10 681.80 h13.53 M991.00 681.80 h-13.53"/>
<path d="M169.10 629.48 h6.76 M991.00 629.48 h-6.76"/>
<path d="M169.10 577.17 h13.53 M991.00 577.17 h-13.53"/>
<path d="M169.10 524.85 h6.76 M991.00 524.85 h-6.76"/>
<path d="M169.10 472.54 h13.53 M991.00 472.54 h-13.53"/>
<path d="M169.10 420.22 h6.76 M991.00 420.22 h-6.76"/>
<path d="M169.10 367.91 h13.53 M991.00 367.91 h-13.53"/>
<path d="M169.10 315.59 h6.76 M991.00 315.59 h-6.76"/>
<path d="M169.10 263.28 h13.53 M991.00 263.28 h-13.53"/>
<path d="M169.10 210.96 h6.76 M991.00 210.96 h-6.76"/>
<path d="M169.10 158.65 h13.53 M991.00 158.65 h-13.53"/>
<path d="M169.10 106.33 h6.76 M991.00 106.33 h-6.76"/>
<path d="M169.10 54.02 h13.53 M991.00 54.02 h-13.53"/>
<path d="M169.10 1.70 h6.76 M991.00 1.70 h-6.76"/>
<path d="M169.10 1416.20 h13.53 M991.00 1416.20 h-13.53"/>
<path d="M169.10 1340.66 h6.76 M991.00 1340.66 h-6.76"/>
<path d="M169.10 1265.11 h13.53 M991.00 1265.11 h-13.53"/>
<path d="M169.10 1189.57 h6.76 M991.00 1189.57 h-6.76"/>
<path d="M169.10 1114.02 h13.53 M991.00 1114.02 h-13.53"/>
<path d="M169.10 1038.48 h6.76 M991.00 1038.48 h-6.76"/>
<path d="M169.10 962.93 h13.53 M991.00 962.93 h-13.53"/>
<path d="M169.10 887.39 h6.76 M991.00 887.39 h-6.76"/>
<path d="M169.10 811.84 h13.53 M991.00 811.84 h-13.53"/>
<path d="M169.10 736.30 h6.76 M991.00 736.30 h-6.76"/>
</g>
<g fill="none" stroke="#000" stroke-width="3.75" stroke-linejoin="miter">
<rect x="169.10" y="1.70" width="821.90" height="680.10"/>
<rect x="169.10" y="736.30" width="821.90" height="679.90"/>
</g>
<g font-family="'Liberation Serif', 'DejaVu Serif', serif" fill="#000">
<text transform="translate(85.40 694.00) scale(0.9670 1.0000)" font-size="49.46">0.9</text>
<text transform="translate(85.40 589.37) scale(0.9670 1.0000)" font-size="49.46">1.0</text>
<text transform="translate(85.40 484.74) scale(0.9670 1.0000)" font-size="49.46">1.1</text>
<text transform="translate(85.40 380.11) scale(0.9670 1.0000)" font-size="49.46">1.2</text>
<text transform="translate(85.40 275.48) scale(0.9670 1.0000)" font-size="49.46">1.3</text>
<text transform="translate(85.40 170.85) scale(0.9670 1.0000)" font-size="49.46">1.4</text>
<text transform="translate(85.40 66.22) scale(0.9670 1.0000)" font-size="49.46">1.5</text>
<text transform="translate(85.40 1428.40) scale(0.9670 1.0000)" font-size="49.46">0.9</text>
<text transform="translate(85.40 1277.31) scale(0.9670 1.0000)" font-size="49.46">1.0</text>
<text transform="translate(85.40 1126.22) scale(0.9670 1.0000)" font-size="49.46">1.1</text>
<text transform="translate(85.40 975.13) scale(0.9670 1.0000)" font-size="49.46">1.2</text>
<text transform="translate(85.40 824.04) scale(0.9670 1.0000)" font-size="49.46">1.3</text>
<text transform="translate(169.40 1462.00) scale(0.9670 1.0000)" font-size="49.46" text-anchor="middle">0</text>
<text transform="translate(333.78 1462.00) scale(0.9670 1.0000)" font-size="49.46" text-anchor="middle">1</text>
<text transform="translate(498.16 1462.00) scale(0.9670 1.0000)" font-size="49.46" text-anchor="middle">2</text>
<text transform="translate(662.54 1462.00) scale(0.9670 1.0000)" font-size="49.46" text-anchor="middle">3</text>
<text transform="translate(826.92 1462.00) scale(0.9670 1.0000)" font-size="49.46" text-anchor="middle">4</text>
<text transform="translate(991.30 1462.00) scale(0.9670 1.0000)" font-size="49.46" text-anchor="middle">5</text>
<text transform="translate(828.20 71.70) scale(1.1110 1.0000)" font-size="40.45" font-style="italic">z</text>
<text transform="translate(856.85 74.40) scale(1.5030 1.0000)" font-size="37.43">=</text>
<text transform="translate(899.00 71.70) scale(0.9920 1.0000)" font-size="41.52">0.0</text>
<text transform="translate(828.20 125.45) scale(1.1110 1.0000)" font-size="40.45" font-style="italic">z</text>
<text transform="translate(856.85 128.15) scale(1.5030 1.0000)" font-size="37.43">=</text>
<text transform="translate(899.00 125.45) scale(0.9920 1.0000)" font-size="41.52">0.5</text>
<text transform="translate(828.20 179.20) scale(1.1110 1.0000)" font-size="40.45" font-style="italic">z</text>
<text transform="translate(856.85 181.90) scale(1.5030 1.0000)" font-size="37.43">=</text>
<text transform="translate(899.00 179.20) scale(0.9920 1.0000)" font-size="41.52">1.0</text>
<text transform="translate(828.20 232.95) scale(1.1110 1.0000)" font-size="40.45" font-style="italic">z</text>
<text transform="translate(856.85 235.65) scale(1.5030 1.0000)" font-size="37.43">=</text>
<text transform="translate(899.00 232.95) scale(0.9920 1.0000)" font-size="41.52">2.0</text>
<text transform="translate(828.20 286.70) scale(1.1110 1.0000)" font-size="40.45" font-style="italic">z</text>
<text transform="translate(856.85 289.40) scale(1.5030 1.0000)" font-size="37.43">=</text>
<text transform="translate(899.00 286.70) scale(0.9920 1.0000)" font-size="41.52">4.0</text>
<text transform="translate(530.55 1527.50) scale(1.1250 1.0000)" font-size="44.54" font-style="italic">ν</text>
<text transform="translate(552.10 1535.00) scale(1.0130 1.0000)" font-size="34.00">200m</text>
<g transform="translate(35.7 443.10) rotate(-90)">
<text transform="translate(0.25 0.00) scale(1.1070 1.0000)" font-size="50.23" font-style="italic">R</text>
<text transform="translate(32.50 7.30) scale(1.1490 1.0000)" font-size="32.30">sp</text>
<text transform="translate(70.50 11.00) skewX(-9.45) scale(0.7800 1.5130)" font-size="50.00">/</text>
<text transform="translate(92.65 0.00) scale(1.1070 1.0000)" font-size="50.23" font-style="italic">R</text>
<text transform="translate(125.70 7.30) scale(1.0130 1.0000)" font-size="34.00">200m</text>
</g>
<g transform="translate(35.7 1185.90) rotate(-90)">
<text transform="translate(0.50 0.00) scale(1.0270 1.0000)" font-size="50.23" font-style="italic">M</text>
<text transform="translate(42.50 7.30) scale(1.1490 1.0000)" font-size="32.30">sp</text>
<text transform="translate(79.50 11.00) skewX(-9.45) scale(0.7800 1.5130)" font-size="50.00">/</text>
<text transform="translate(100.10 0.00) scale(1.0270 1.0000)" font-size="50.23" font-style="italic">M</text>
<text transform="translate(141.90 7.30) scale(1.0130 1.0000)" font-size="34.00">200m</text>
</g>
</g>
<g fill="none" stroke-width="5.00" stroke-linecap="butt">
<path d="M710.1 56.50 H796.2" stroke="#e50026"/>
<path d="M710.1 110.25 H796.2" stroke="#377eb8"/>
<path d="M710.1 164.00 H796.2" stroke="#984ea3"/>
<path d="M710.1 217.75 H796.2" stroke="#46ae58"/>
<path d="M710.1 271.50 H796.2" stroke="#ff7d28"/>
</g>
</svg>
</body></html>
